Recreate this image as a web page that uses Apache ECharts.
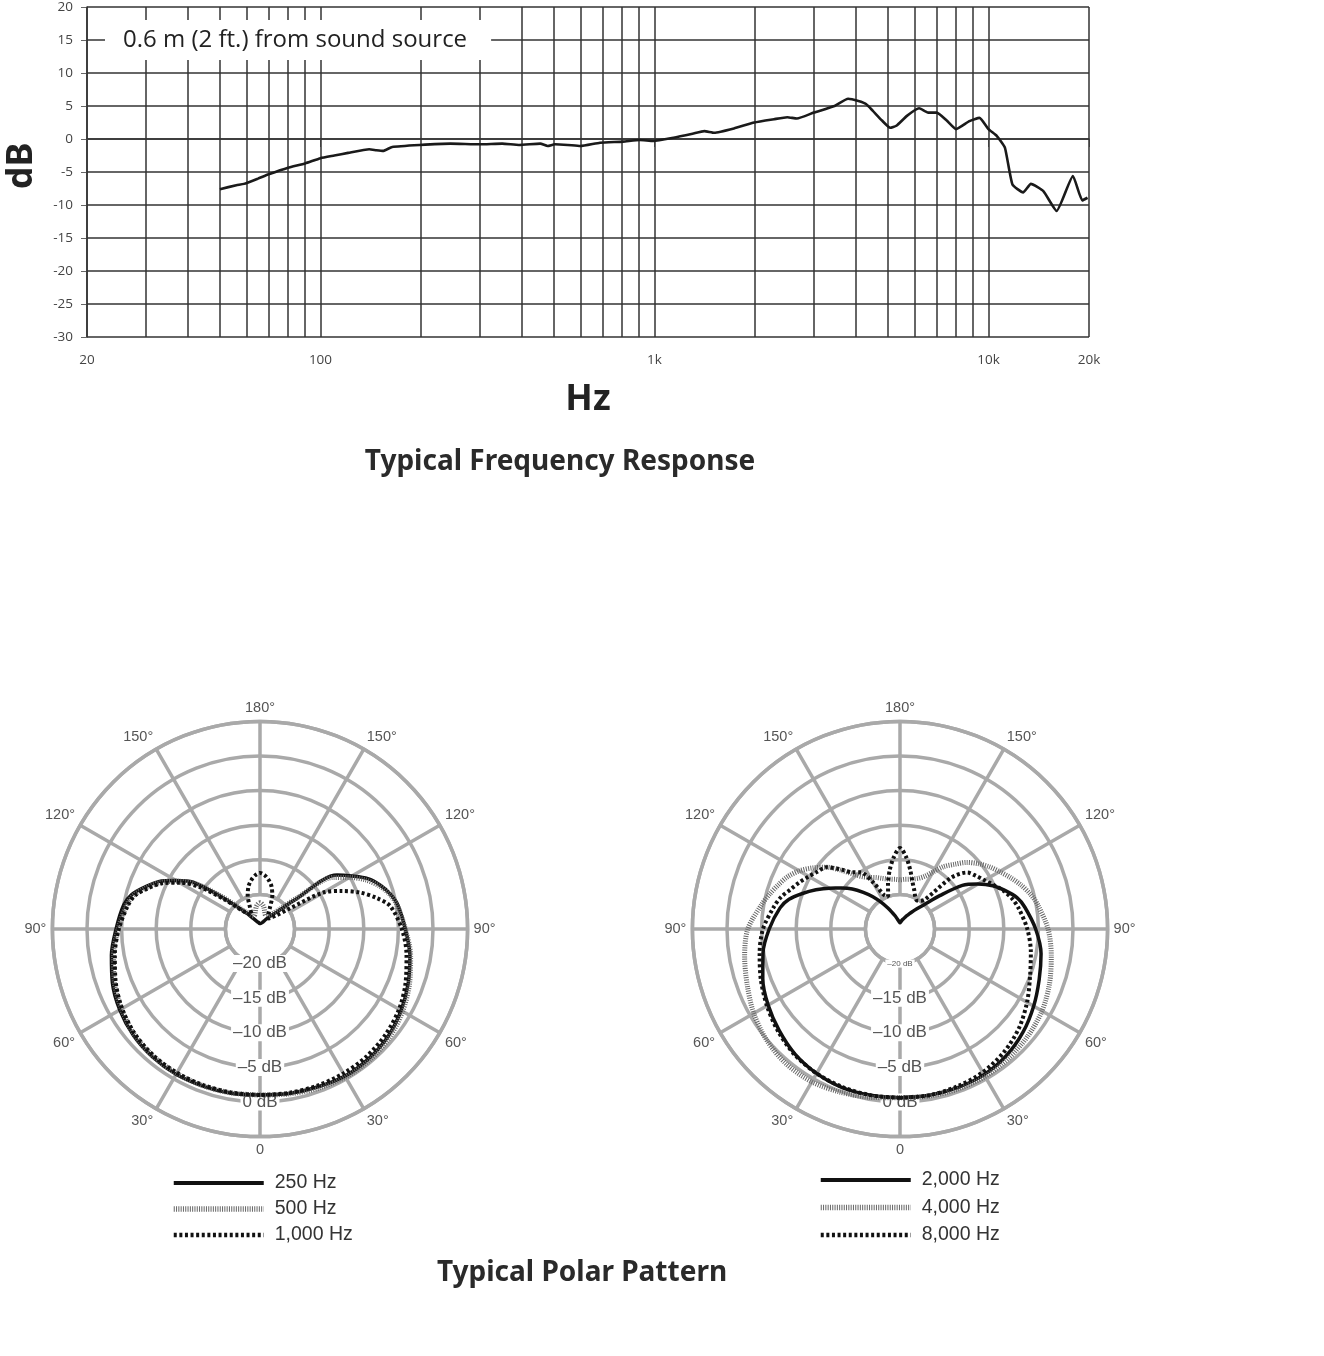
<!DOCTYPE html>
<html><head><meta charset="utf-8">
<script src="https://cdn.jsdelivr.net/npm/echarts@6/dist/echarts.min.js"></script>
<style>html,body{margin:0;padding:0;background:#fff}#c{width:1324px;height:1356px}</style>
</head><body><div id="c"></div>
<script>
// ---------- Frequency response ----------
const freqHz = [50,56,59,65,70,80,90,100,110,121,140,147,154,164,198,245,300,350,393,455,479,503,550,600,687,805,903,992,1140,1300,1410,1510,1730,1990,2280,2500,2670,3000,3460,3800,4080,4300,4500,4800,5080,5300,5700,6200,6600,7000,7500,8000,8770,9400,10000,10600,11200,11800,12700,13400,14600,16000,17900,19100,19800];
const respDb = [-7.6,-7.0,-6.8,-6.0,-5.35,-4.35,-3.7,-2.9,-2.5,-2.1,-1.56,-1.7,-1.8,-1.2,-0.9,-0.7,-0.8,-0.7,-0.9,-0.7,-1.06,-0.8,-0.9,-1.06,-0.56,-0.4,-0.15,-0.3,0.2,0.8,1.2,0.95,1.6,2.5,3.0,3.3,3.1,4.0,5.0,6.1,5.75,5.3,4.3,2.8,1.7,2.0,3.5,4.65,4.0,4.0,2.8,1.5,2.7,3.2,1.5,0.45,-1.3,-6.9,-8.1,-6.8,-7.9,-10.9,-5.6,-9.3,-8.9];
const gridFreqs = [20,30,40,50,60,70,80,90,100,200,300,400,500,600,700,800,900,1000,2000,3000,4000,5000,6000,7000,8000,9000,10000,20000];

// ---------- Polar patterns (dB by angle, left half and right half, 0 = front) ----------
const halfAngles = [0,10,20,30,40,50,60,70,80,90,100,105,110,115,120,125,130,135,140,145,150,155,160,165,170,175,180];
const p250L  = [-1.0,-0.9,-0.85,-0.75,-0.85,-1.1,-1.6,-2.3,-3.2,-4.2,-5.0,-5.8,-7.3,-8.8,-11.0,-13.2,-17.8,-20.7,-22.0,-22.9,-23.4,-23.7,-23.9,-24.0,-24.1,-24.2,-24.2];
const p250R  = [-1.0,-0.85,-0.7,-0.45,-0.55,-0.85,-1.45,-2.2,-3.0,-4.0,-4.8,-5.5,-6.5,-7.8,-9.7,-11.4,-18.5,-21.4,-22.4,-23.1,-23.5,-23.8,-24.0,-24.1,-24.2,-24.2,-24.2];
const p500L  = [-1.0,-0.95,-0.9,-0.9,-1.0,-1.3,-1.9,-2.6,-3.5,-4.5,-5.4,-6.1,-7.5,-9.1,-11.2,-13.6,-17.5,-20.5,-21.8,-22.5,-22.8,-22.9,-22.8,-22.4,-21.8,-21.4,-21.2];
const p500R  = [-1.0,-0.8,-0.5,-0.3,-0.3,-0.6,-1.2,-2.0,-2.9,-4.0,-4.9,-5.6,-6.7,-8.2,-10.1,-12.0,-18.0,-21.0,-22.0,-22.6,-22.8,-22.9,-22.8,-22.4,-21.8,-21.4,-21.2];
const p1000L = [-1.0,-1.0,-1.0,-1.0,-1.1,-1.4,-2.0,-2.8,-3.7,-4.6,-5.6,-6.3,-7.8,-9.4,-11.6,-14.5,-18.5,-21.0,-22.0,-22.4,-22.6,-21.6,-19.8,-18.6,-17.8,-17.2,-16.9];
const p1000R = [-1.0,-0.95,-0.9,-0.9,-1.0,-1.3,-1.8,-2.6,-3.5,-4.5,-5.9,-7.6,-9.6,-12.0,-14.5,-20.0,-22.0,-22.6,-23.0,-23.0,-22.6,-21.6,-19.8,-18.6,-17.8,-17.2,-16.9];
const p2000L = [-0.6,-0.6,-0.6,-0.9,-1.4,-2.2,-3.0,-3.9,-4.9,-6.1,-7.4,-8.4,-10.0,-11.6,-13.2,-14.7,-16.0,-17.5,-18.9,-20.3,-21.5,-22.4,-23.0,-23.5,-23.8,-24.0,-24.1];
const p2000R = [-0.6,-0.6,-0.6,-0.7,-1.1,-1.8,-2.7,-3.6,-4.3,-5.4,-6.7,-7.5,-8.8,-10.2,-12.0,-14.0,-17.5,-20.0,-21.2,-22.0,-22.6,-23.0,-23.4,-23.6,-23.8,-24.0,-24.1];
const p4000L = [-0.6,-0.3,0.1,0.5,0.5,0.1,-0.6,-1.5,-2.2,-3.0,-4.7,-5.5,-6.3,-7.1,-8.2,-9.6,-11.1,-13.0,-14.7,-15.8,-16.4,-16.8,-17.2,-17.5,-17.7,-17.8,-17.9];
const p4000R = [-0.6,-0.5,-0.4,-0.4,-0.6,-0.9,-1.3,-2.0,-2.8,-3.6,-4.8,-5.5,-6.4,-7.4,-8.4,-9.3,-10.3,-11.4,-12.8,-14.0,-15.5,-16.6,-17.2,-17.5,-17.7,-17.8,-17.9];
const p8000L = [-0.6,-0.6,-0.7,-0.9,-1.3,-2.0,-2.8,-3.6,-4.4,-5.2,-6.5,-7.2,-8.2,-9.0,-9.8,-10.5,-11.1,-12.8,-14.3,-15.0,-17.2,-19.6,-20.0,-18.3,-16.4,-14.6,-13.3];
const p8000R = [-0.6,-0.6,-0.8,-1.1,-1.7,-2.6,-3.8,-5.0,-5.8,-6.6,-7.6,-8.2,-9.0,-10.0,-10.9,-11.6,-12.3,-14.5,-19.5,-20.0,-20.2,-19.8,-19.0,-18.0,-16.4,-14.6,-13.3];
const ringDb = [-20,-15,-10,-5,0,5];
const centerDb = -25;
const legendNames = [['250 Hz','500 Hz','1,000 Hz'], ['2,000 Hz','4,000 Hz','8,000 Hz']];

function polarData(left, right) {
  const d = [];
  halfAngles.forEach((a, i) => d.push([left[i], a]));
  for (let i = halfAngles.length - 2; i >= 0; i--) d.push([right[i], 360 - halfAngles[i]]);
  return d;
}

const GRID = '#a9a9a9';
const STY = {
  solid:   {color: '#111', width: 3.5, type: 'solid'},
  hatched: {color: '#666', width: 5, type: [1, 1.3]},
  dotted:  {color: '#111', width: 4, type: [3, 2.6]}
};
const styleOrder = [STY.solid, STY.hatched, STY.dotted];
const OUTER_R = 207.6, INNER_R = 34.6;
const centers = [[260, 929], [900, 929]];

function polarSeries(name, idx, data, sty) {
  return {name, type: 'line', coordinateSystem: 'polar', polarIndex: idx, data, showSymbol: false, symbol: 'none',
    smooth: 0.3, clip: false, lineStyle: Object.assign({}, sty), itemStyle: {color: sty.color}, silent: true, z: 4};
}

function angleLabel(v) {
  if (v === 360) return '';
  if (v === 0) return '0';
  return (v > 180 ? 360 - v : v) + '°';
}

function legendData(names) {
  return names.map((n, i) => ({name: n,
    lineStyle: Object.assign({}, styleOrder[i], {width: styleOrder[i].width + 0.5}),
    itemStyle: {opacity: 0}}));
}

const chart = echarts.init(document.getElementById('c'), null, {renderer: 'canvas'});
const option = {
  animation: false,
  backgroundColor: '#fff',
  grid: [{left: 87, top: 7, width: 1002, height: 330, show: false}],
  xAxis: [{
    type: 'log', logBase: 10, min: 20, max: 20000, gridIndex: 0,
    axisLine: {show: true, lineStyle: {color: '#333', width: 1.5}},
    axisTick: {show: true, length: 8, lineStyle: {color: '#666', width: 1}},
    splitLine: {show: false},
    axisLabel: {color: '#444', fontSize: 13.5, margin: 16, fontFamily: 'Open Sans',
      formatter: v => (v >= 1000 ? (v / 1000) + 'k' : String(v))}
  }],
  yAxis: [{
    type: 'value', min: -30, max: 20, interval: 5, gridIndex: 0,
    axisLine: {show: true, lineStyle: {color: '#333', width: 1.5}},
    axisTick: {show: true, length: 6, lineStyle: {color: '#666', width: 1}},
    splitLine: {show: true, lineStyle: {color: '#333', width: 1.5}},
    axisLabel: {color: '#444', fontSize: 13.5, margin: 14, fontFamily: 'Open Sans'}
  }],
  // polar 0,1: grids (rings from -20 dB outward); polar 2,3: data scale reaching the centre (-25 dB)
  polar: [
    {center: centers[0], radius: [INNER_R, OUTER_R]},
    {center: centers[1], radius: [INNER_R, OUTER_R]},
    {center: centers[0], radius: [0, OUTER_R]},
    {center: centers[1], radius: [0, OUTER_R]}
  ],
  angleAxis: [0, 1, 2, 3].map(i => (i < 2 ? {
    polarIndex: i, type: 'value', min: 0, max: 360, interval: 30, startAngle: 270, clockwise: true,
    axisLine: {show: true, lineStyle: {color: GRID, width: 3.5}},
    axisTick: {show: false},
    splitLine: {show: true, lineStyle: {color: GRID, width: 3.5}},
    axisLabel: {show: true, margin: 6, color: '#555', fontSize: 14.5, fontFamily: 'Liberation Sans', formatter: angleLabel}
  } : {
    polarIndex: i, type: 'value', min: 0, max: 360, interval: 30, startAngle: 270, clockwise: true, show: false
  })),
  radiusAxis: [0, 1, 2, 3].map(i => (i < 2 ? {
    polarIndex: i, type: 'value', min: ringDb[0], max: ringDb[ringDb.length - 1], interval: 5,
    axisLine: {show: false}, axisTick: {show: false},
    splitLine: {show: true, lineStyle: {color: GRID, width: 3.5}},
    axisLabel: {
      show: true, margin: 0, align: 'center', verticalAlign: 'middle', rotate: 0,
      color: '#555', fontSize: 17, fontFamily: 'Liberation Sans',
      backgroundColor: '#fff', padding: [0, 2],
      formatter: v => {
        if (v > 0) return '';
        const t = (v < 0 ? '\u2013' + Math.abs(v) : '0') + ' dB';
        return (i === 1 && v === -20) ? '{s|' + t + '}' : t;
      },
      rich: {s: {fontSize: 8, color: '#555', fontFamily: 'Liberation Sans'}}
    },
    z: 3
  } : {
    polarIndex: i, type: 'value', min: centerDb, max: ringDb[ringDb.length - 1], show: false
  })),
  legend: [
    {data: legendData(legendNames[0]), orient: 'vertical', left: 166, top: 1168,
      itemWidth: 90, itemHeight: 14, itemGap: 6, selectedMode: false, itemStyle: {opacity: 0},
      textStyle: {fontSize: 19.5, color: '#333', fontFamily: 'Liberation Sans', padding: [0, 0, 0, 6]}},
    {data: legendData(legendNames[1]), orient: 'vertical', left: 813, top: 1165,
      itemWidth: 90, itemHeight: 14, itemGap: 7.5, selectedMode: false, itemStyle: {opacity: 0},
      textStyle: {fontSize: 19.5, color: '#333', fontFamily: 'Liberation Sans', padding: [0, 0, 0, 6]}}
  ],
  series: [
    {name: 'response', type: 'line', xAxisIndex: 0, yAxisIndex: 0,
      data: freqHz.map((f, i) => [f, respDb[i]]), showSymbol: false, symbol: 'none', smooth: 0.15,
      lineStyle: {color: '#1a1a1a', width: 2.6}, z: 6, silent: true,
      markLine: {symbol: 'none', silent: true, animation: false, label: {show: false},
        lineStyle: {color: '#333', width: 1.5, type: 'solid'}, z: 3,
        data: gridFreqs.map(f => ({xAxis: f}))}
    },
    polarSeries(legendNames[0][0], 2, polarData(p250L, p250R), STY.solid),
    polarSeries(legendNames[0][1], 2, polarData(p500L, p500R), STY.hatched),
    polarSeries(legendNames[0][2], 2, polarData(p1000L, p1000R), STY.dotted),
    polarSeries(legendNames[1][0], 3, polarData(p2000L, p2000R), STY.solid),
    polarSeries(legendNames[1][1], 3, polarData(p4000L, p4000R), STY.hatched),
    polarSeries(legendNames[1][2], 3, polarData(p8000L, p8000R), STY.dotted)
  ],
  graphic: [
    {type: 'text', x: 105, y: 40, z: 100, silent: true,
      style: {text: '0.6 m (2 ft.) from sound source', fill: '#222', font: '24px "Open Sans"',
        align: 'left', verticalAlign: 'middle', textAlign: 'left', textVerticalAlign: 'middle',
        backgroundColor: '#fff', padding: [8, 24, 8, 18]}},
    {type: 'text', x: 588, y: 400, z: 100, silent: true,
      style: {text: 'Hz', fill: '#222', font: 'bold 36px "Noto Sans"', align: 'center', verticalAlign: 'middle', textAlign: 'center', textVerticalAlign: 'middle'}},
    {type: 'text', x: 22, y: 166, rotation: Math.PI / 2, z: 100, silent: true,
      style: {text: 'dB', fill: '#222', font: 'bold 36px "Noto Sans"', align: 'center', verticalAlign: 'middle', textAlign: 'center', textVerticalAlign: 'middle'}},
    {type: 'text', x: 560, y: 462, z: 100, silent: true,
      style: {text: 'Typical Frequency Response', fill: '#2a2a2a', font: 'bold 28px "Noto Sans"', align: 'center', verticalAlign: 'middle', textAlign: 'center', textVerticalAlign: 'middle'}},
    {type: 'text', x: 582, y: 1273, z: 100, silent: true,
      style: {text: 'Typical Polar Pattern', fill: '#2a2a2a', font: 'bold 28px "Noto Sans"', align: 'center', verticalAlign: 'middle', textAlign: 'center', textVerticalAlign: 'middle'}}
  ]
};
chart.setOption(option);
</script>
</body></html>
